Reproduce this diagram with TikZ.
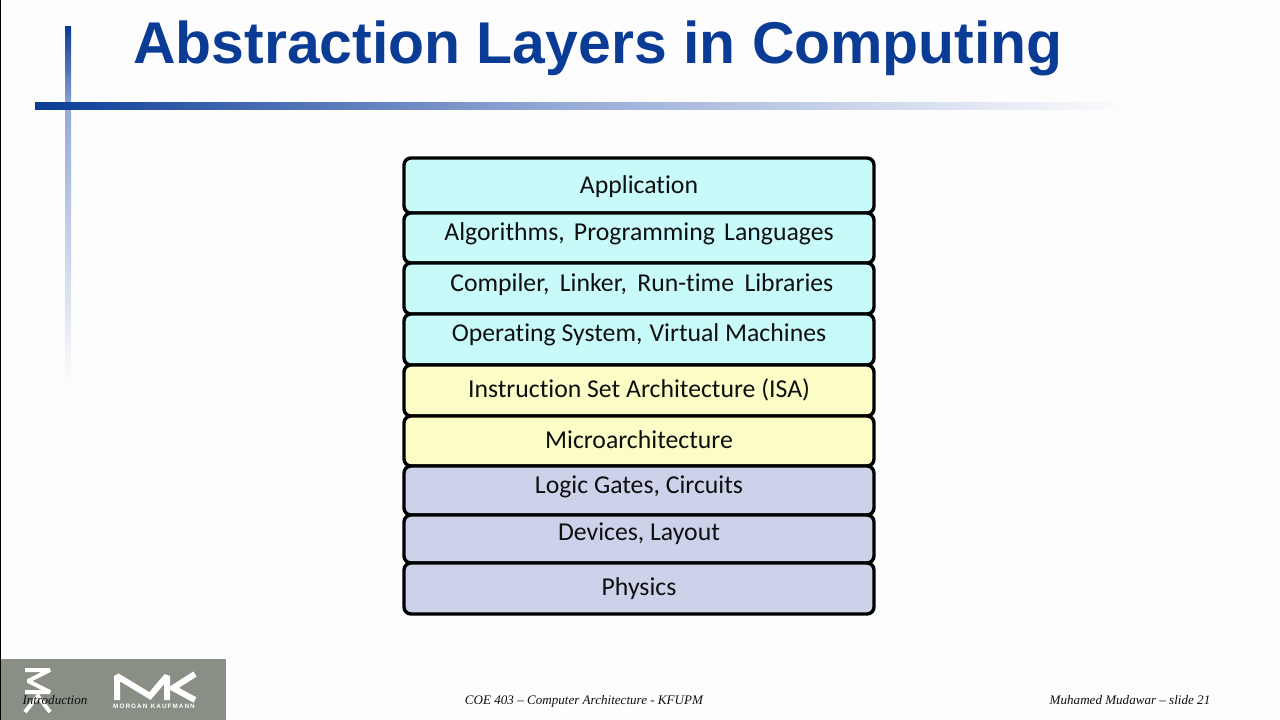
\documentclass[tikz,border=0pt]{standalone}
\usepackage{fontspec}
\setmainfont{Liberation Sans}
\newfontfamily\layerfont[Ligatures=CommonOff]{Carlito}
\newfontfamily\footfont{Liberation Serif}
\usetikzlibrary{positioning}
\definecolor{slidebg}{RGB}{253,253,253}
\definecolor{titleblue}{RGB}{10,60,150}
\definecolor{rulefade}{RGB}{150,170,215}
\definecolor{softcyan}{RGB}{200,250,250}
\definecolor{softyellow}{RGB}{252,252,198}
\definecolor{softviolet}{RGB}{205,210,235}
\definecolor{logogray}{RGB}{138,143,133}
\definecolor{inkblack}{RGB}{15,15,15}

\begin{document}
\begin{tikzpicture}[
    x=0.025cm, y=-0.025cm,
    layer/.style={rectangle, draw=black, line width=3.4*0.025cm, rounded corners=7*0.025cm,
        minimum width=470*0.025cm, inner sep=0pt, outer sep=0pt, text=inkblack, align=center,
        font=\layerfont\fontsize{18.3}{20}\selectfont, text height=9pt, text depth=3pt},
    foot/.style={inner sep=0pt, anchor=base, text=inkblack, font=\footfont\itshape\fontsize{9.3}{11}\selectfont},
    logoline/.style={draw=white, line width=6*0.025cm, miter limit=2}
]
\useasboundingbox (0,0) rectangle (1280,720);
\fill[slidebg] (0,0) rectangle (1280,720);
\fill[black] (0,0) rectangle (1.5,720);

% title and rules
\node[anchor=base west, inner sep=0pt, text=titleblue, font=\bfseries\fontsize{41.9}{46}\selectfont] (title) at (133,64) {Abstraction Layers in Computing};
\shade[top color=titleblue, bottom color=rulefade] (65,27) rectangle (71,110);
\shade[top color=rulefade, bottom color=slidebg] (65,110) rectangle (71,385);
\shade[left color=titleblue, right color=rulefade] (35,103) rectangle (560,110);
\shade[left color=rulefade, right color=slidebg] (560,103) rectangle (1130,110);

% layers
\node[layer, fill=softcyan, minimum height=55*0.025cm, anchor=north, text height=14.7pt] (app) at (639,158) {Application};
\node[layer, fill=softcyan, minimum height=50*0.025cm, below=0pt of app, text depth=5.8pt] (algo) {Algorithms,\hspace{6.6pt}Programming\hspace{6.6pt}Languages};
\node[layer, fill=softcyan, minimum height=51*0.025cm, below=0pt of algo, text depth=5.1pt] (comp) {\hspace*{4pt}Compiler,\hspace{7.4pt}Linker,\hspace{7.4pt}Run-time\hspace{7.4pt}Libraries};
\node[layer, fill=softcyan, minimum height=51*0.025cm, below=0pt of comp, text depth=5.8pt] (os) {Operating System,\hspace{5pt}Virtual Machines};
\node[layer, fill=softyellow, minimum height=51*0.025cm, below=0pt of os, text height=12.6pt] (isa) {Instruction Set Architecture (ISA)};
\node[layer, fill=softyellow, minimum height=50*0.025cm, below=0pt of isa, text height=14pt] (micro) {Microarchitecture};
\node[layer, fill=softviolet, minimum height=49*0.025cm, below=0pt of micro, text depth=4.9pt] (logic) {Logic Gates, Circuits};
\node[layer, fill=softviolet, minimum height=48*0.025cm, below=0pt of logic, text depth=7pt] (dev) {Devices, Layout};
\node[layer, fill=softviolet, minimum height=51*0.025cm, below=0pt of dev, text height=13.3pt] (phys) {Physics};

% footer
\fill[logogray] (1.5,659) rectangle (226,720);
\draw[logoline] (117,700) -- (117,676) -- (150,696) -- (167,676) -- (167,700);
\draw[logoline] (195,674) -- (173,688) -- (195,700);
\node[inner sep=0pt, text=white, font=\bfseries\fontsize{4.5}{5}\selectfont] (press) at (154,706) {M\,O\,R\,G\,A\,N\ \ K\,A\,U\,F\,M\,A\,N\,N};
\draw[logoline, line width=4*0.025cm] (25,670) -- (50,670) -- (28,681) -- (50,692) -- (25,692);
\draw[logoline, line width=4*0.025cm] (25,712) -- (38,696) -- (50,712);
\node[foot] (intro) at (55,704) {Introduction};
\node[foot] (course) at (584,704) {COE 403 – Computer Architecture - KFUPM};
\node[foot] (slide) at (1130,704) {Muhamed Mudawar – slide 21};
\end{tikzpicture}
\end{document}
